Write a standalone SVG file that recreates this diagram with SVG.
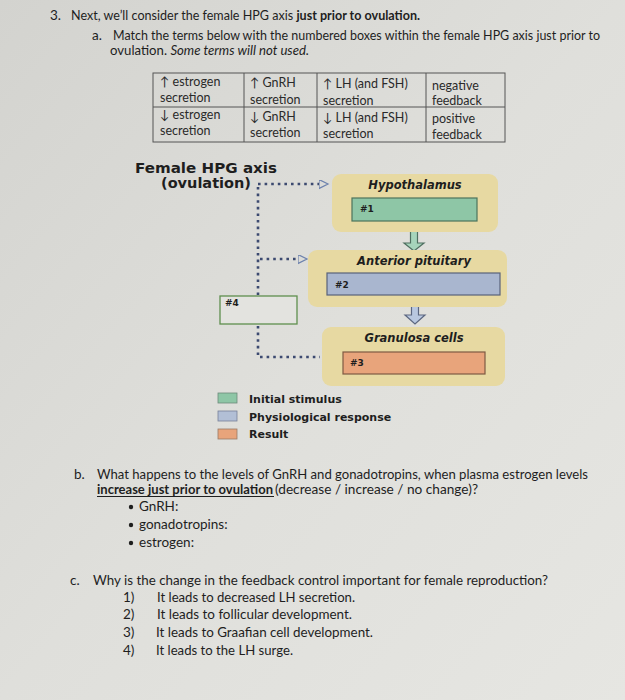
<svg xmlns="http://www.w3.org/2000/svg" width="625" height="700" viewBox="0 0 625 700">
<defs>
<linearGradient id="bg" x1="0" y1="0" x2="1" y2="1">
<stop offset="0" stop-color="#d3d3cf"/>
<stop offset="0.5" stop-color="#dfdfdb"/>
<stop offset="1" stop-color="#e6e6e2"/>
</linearGradient>
<marker id="tri" markerUnits="userSpaceOnUse" markerWidth="11" markerHeight="11" refX="0" refY="4.5" orient="auto">
<path d="M0,0 L9,4.5 L0,9 z" fill="#dcdcd8" stroke="#6d82ad" stroke-width="1.2"/>
</marker>
<style>
.doc{font-family:Lato,"Liberation Sans",sans-serif;fill:#1e1e1e;font-size:13.5px}
.tb{font-family:Lato,"Liberation Sans",sans-serif;fill:#2a2a2a;font-size:12.5px}
.dg{font-family:"DejaVu Sans",Verdana,sans-serif;font-weight:bold;fill:#1e1e1e}
.ttl{font-size:11.5px;font-style:italic;text-anchor:middle}
.num{font-size:9px}
.panel{fill:#e7d9a2;stroke:none}
.dots{fill:none;stroke:#3c4a70;stroke-width:2.6;stroke-dasharray:2.6 4}
.blk{stroke-width:1.2}
.grid{fill:none;stroke:#555;stroke-width:1}
</style>
</defs>
<rect width="625" height="700" fill="url(#bg)"/>

<g id="header" class="doc">
<text x="50" y="20">3.</text>
<text x="71" y="20" textLength="349" lengthAdjust="spacingAndGlyphs">Next, we’ll consider the female HPG axis <tspan font-weight="bold">just prior to ovulation.</tspan></text>
<text x="92" y="40">a.</text>
<text x="113" y="40" textLength="487" lengthAdjust="spacingAndGlyphs">Match the terms below with the numbered boxes within the female HPG axis just prior to</text>
<text x="110" y="55" textLength="199" lengthAdjust="spacingAndGlyphs">ovulation. <tspan font-style="italic">Some terms will not used.</tspan></text>
</g>

<g id="terms-table">
<rect class="grid" x="153" y="73" width="352" height="69"/>
<line class="grid" x1="153" y1="107" x2="505" y2="107"/>
<line class="grid" x1="244" y1="73" x2="244" y2="142"/>
<line class="grid" x1="317" y1="73" x2="317" y2="142"/>
<line class="grid" x1="426" y1="73" x2="426" y2="142"/>
<g class="tb">
<text x="160" y="86">↑ estrogen</text>
<text x="160" y="102">secretion</text>
<text x="250" y="87">↑ GnRH</text>
<text x="250" y="104">secretion</text>
<text x="323" y="88">↑ LH (and FSH)</text>
<text x="323" y="105">secretion</text>
<text x="432" y="90">negative</text>
<text x="432" y="105">feedback</text>
<text x="160" y="119">↓ estrogen</text>
<text x="160" y="135">secretion</text>
<text x="250" y="121">↓ GnRH</text>
<text x="250" y="137">secretion</text>
<text x="323" y="122">↓ LH (and FSH)</text>
<text x="323" y="138">secretion</text>
<text x="432" y="123">positive</text>
<text x="432" y="139">feedback</text>
</g>
</g>

<g id="diagram-title" class="dg" font-size="13.5">
<text x="135" y="173" textLength="142" lengthAdjust="spacingAndGlyphs">Female HPG axis</text>
<text x="161" y="188" textLength="90" lengthAdjust="spacingAndGlyphs">(ovulation)</text>
</g>

<g id="connectors">
<path class="dots" d="M258,184 H319" marker-end="url(#tri)"/>
<path class="dots" d="M258,187 V295"/>
<path class="dots" d="M260,259 H298" marker-end="url(#tri)"/>
<path class="dots" d="M258,326 V357 H320"/>
<polygon class="blk" points="410.5,221 417.5,221 417.5,243 424,243 414,251 404,243 410.5,243" fill="#a6d4bb" stroke="#4f6f60"/>
<polygon class="blk" points="411.5,295 418.5,295 418.5,315 425,315 415,324 405,315 411.5,315" fill="#b9c8e0" stroke="#5c6780"/>
</g>

<g id="hypothalamus">
<rect class="panel" x="332" y="174" width="166" height="58" rx="9"/>
<text class="dg ttl" x="415" y="189">Hypothalamus</text>
<rect x="352" y="198" width="125" height="23" fill="#8ec6a6" stroke="#4c735c" stroke-width="1.2"/>
<text class="dg num" x="360" y="212">#1</text>
</g>

<g id="anterior-pituitary">
<rect class="panel" x="308" y="250" width="199" height="57" rx="9"/>
<text class="dg ttl" x="414" y="265">Anterior pituitary</text>
<rect x="327" y="273" width="173" height="22" fill="#a9b6cf" stroke="#59627a" stroke-width="1.2"/>
<text class="dg num" x="335" y="288">#2</text>
</g>

<g id="granulosa-cells">
<rect class="panel" x="322" y="327" width="183" height="59" rx="9"/>
<text class="dg ttl" x="414" y="342">Granulosa cells</text>
<rect x="343" y="352" width="142" height="22" fill="#e8a47b" stroke="#7e5a43" stroke-width="1.2"/>
<text class="dg num" x="350" y="366">#3</text>
</g>

<g id="box4">
<rect x="220" y="296" width="77" height="28" fill="#e3e3df" stroke="#5f8f4e" stroke-width="1.3"/>
<text class="dg num" x="225" y="306">#4</text>
</g>

<g id="legend" class="dg" font-size="11">
<rect x="218" y="393" width="19" height="10" fill="#8ec6a6" stroke="#6d8a7a" stroke-width="0.8"/>
<rect x="218" y="411" width="19" height="10" fill="#b2bfd6" stroke="#77809a" stroke-width="0.8"/>
<rect x="218" y="429" width="19" height="10" fill="#e8a47b" stroke="#9a7a66" stroke-width="0.8"/>
<text x="249" y="403">Initial stimulus</text>
<text x="249" y="421">Physiological response</text>
<text x="249" y="438">Result</text>
</g>

<g id="question-b" class="doc">
<text x="74" y="479">b.</text>
<text x="97" y="479" textLength="491" lengthAdjust="spacingAndGlyphs">What happens to the levels of GnRH and gonadotropins, when plasma estrogen levels</text>
<text x="97" y="494" font-weight="bold" textLength="176" lengthAdjust="spacingAndGlyphs">increase just prior to ovulation</text>
<line x1="97" y1="496.5" x2="274" y2="496.5" stroke="#1e1e1e" stroke-width="1"/>
<text x="275" y="494" textLength="203" lengthAdjust="spacingAndGlyphs">(decrease / increase / no change)?</text>
<circle cx="131" cy="507" r="2.2" fill="#1e1e1e"/>
<text x="139" y="511">GnRH:</text>
<circle cx="131" cy="525" r="2.2" fill="#1e1e1e"/>
<text x="139" y="529">gonadotropins:</text>
<circle cx="131" cy="543" r="2.2" fill="#1e1e1e"/>
<text x="139" y="547">estrogen:</text>
</g>

<g id="question-c" class="doc">
<text x="70" y="585">c.</text>
<text x="93" y="585" textLength="455" lengthAdjust="spacingAndGlyphs">Why is the change in the feedback control important for female reproduction?</text>
<text x="123" y="602">1)</text>
<text x="157" y="602" textLength="198" lengthAdjust="spacingAndGlyphs">It leads to decreased LH secretion.</text>
<text x="123" y="619">2)</text>
<text x="157" y="619" textLength="195" lengthAdjust="spacingAndGlyphs">It leads to follicular development.</text>
<text x="123" y="637">3)</text>
<text x="156" y="637" textLength="217" lengthAdjust="spacingAndGlyphs">It leads to Graafian cell development.</text>
<text x="123" y="655">4)</text>
<text x="156" y="655" textLength="137" lengthAdjust="spacingAndGlyphs">It leads to the LH surge.</text>
</g>
</svg>
